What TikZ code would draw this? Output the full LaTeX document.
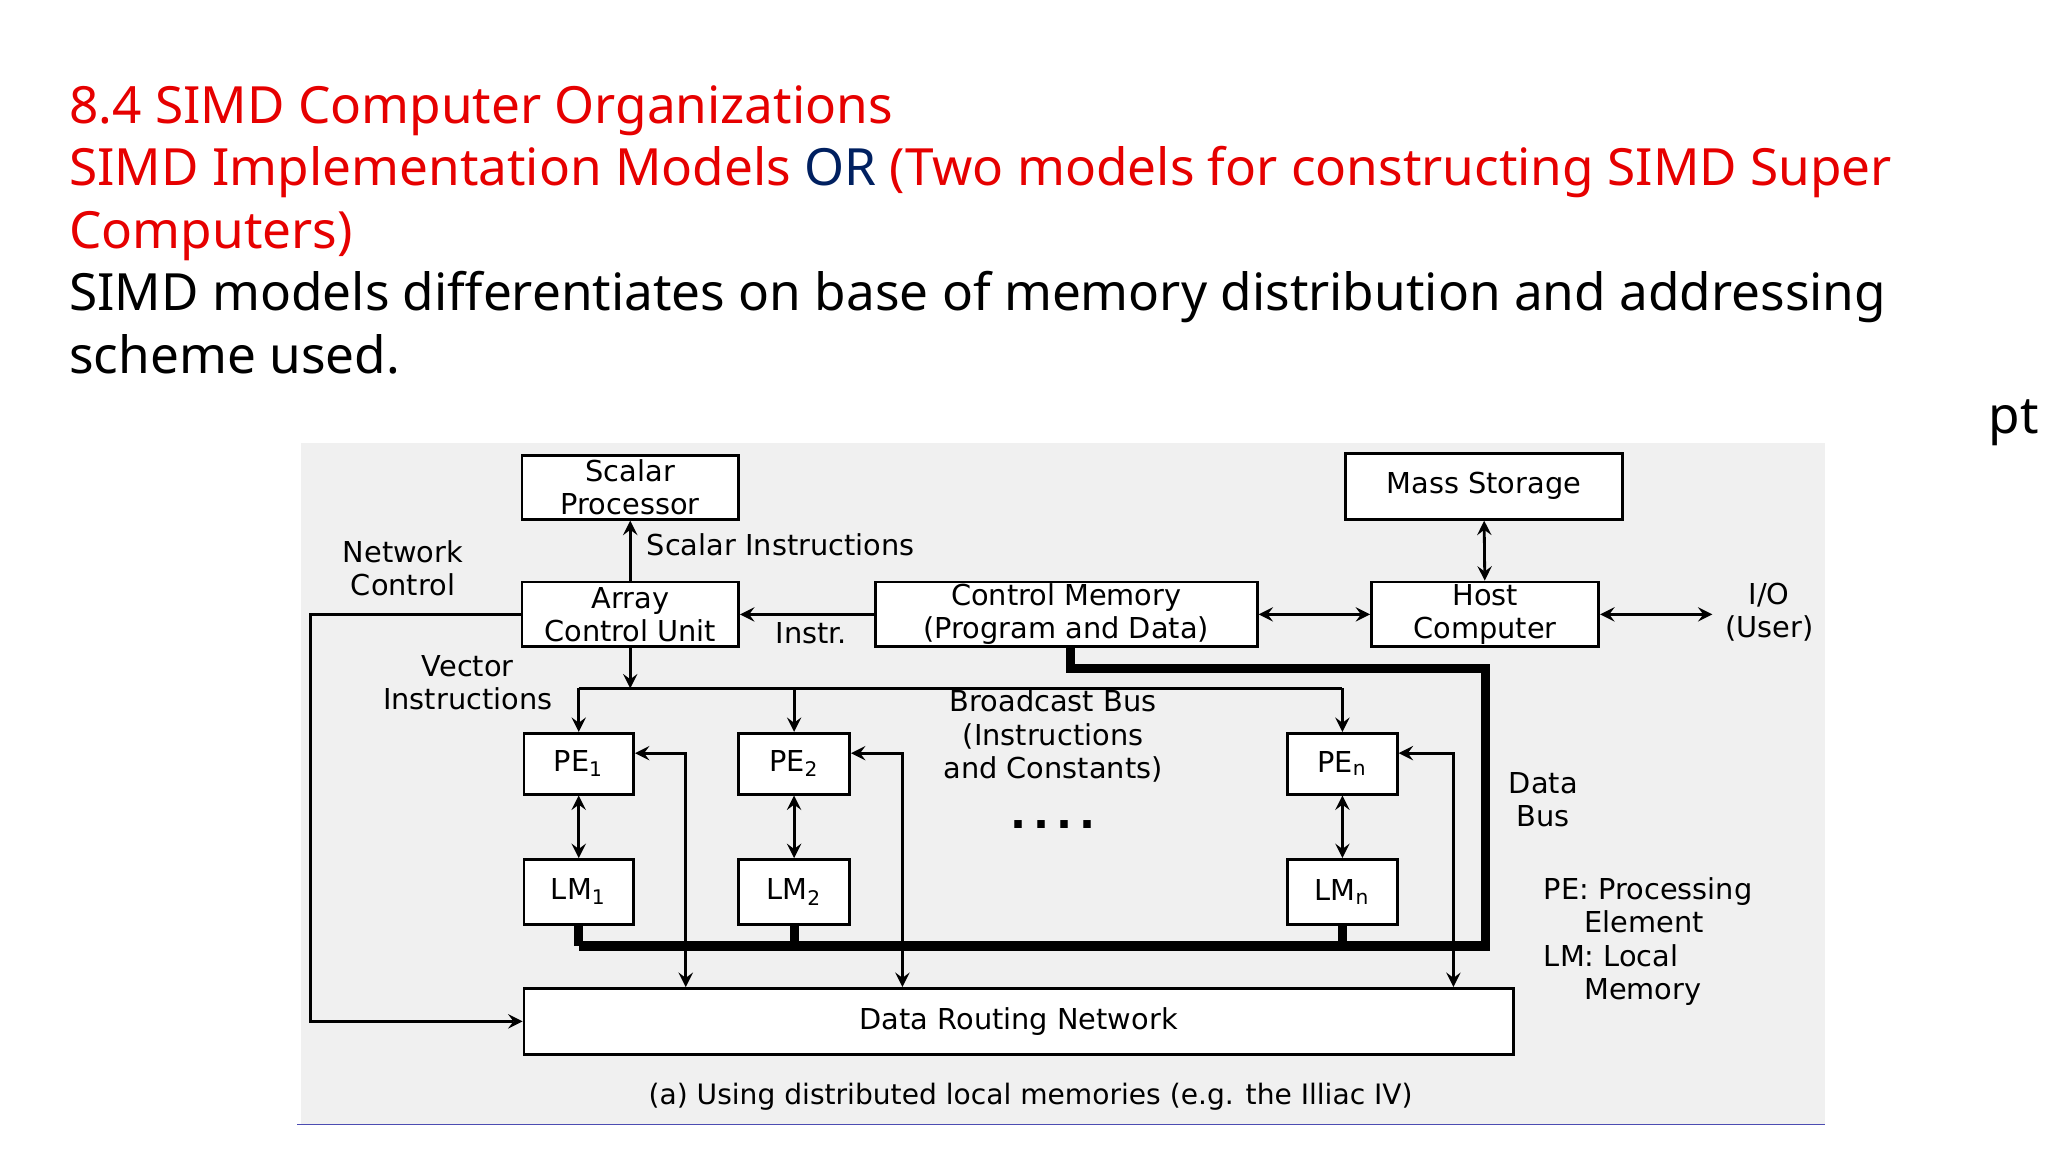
\documentclass[tikz,border=0pt]{standalone}
\usepackage{fontspec}
\setmainfont{Noto Sans}
\newfontfamily\diag{DejaVu Sans}
\definecolor{headred}{RGB}{230,0,0}
\definecolor{ornavy}{RGB}{0,32,96}
\newcommand\pxw{0.3759pt}
\begin{document}
\begin{tikzpicture}[x=0.013213cm,y=-0.013213cm,
    box/.style={draw, thick, fill=white, font=\diag\fontsize{8.2}{9.4}\selectfont, align=center, inner sep=0pt},
    lbl/.style={font=\diag\fontsize{8.2}{9.4}\selectfont, align=center, inner sep=0pt},
    conn/.style={thick},
    bus/.style={line width=2.6pt}]
\useasboundingbox (0,0) rectangle (1550,872);
% heading
\node[anchor=north west, align=left, inner sep=0pt, font=\fontsize{14.6}{17.8}\selectfont] (head) at (52,64)
  {\textcolor{headred}{8.4 SIMD Computer Organizations}\\
   \textcolor{headred}{SIMD Implementation Models} \textcolor{ornavy}{OR} \textcolor{headred}{(Two models for constructing SIMD Super}\\
   \textcolor{headred}{Computers)}\\
   SIMD models differentiates on base of memory distribution and addressing\\
   scheme used.};
\node[font=\fontsize{14.6}{18}\selectfont, inner sep=0pt] (pt) at (1524,320) {pt};
% figure background
\fill[black!6] (228,335) rectangle (1381,851);
\draw[blue!40!gray] (225,851) -- (1381,851);
% boxes
\node[box, minimum width=164*\pxw, minimum height=48*\pxw] (sp) at (477,369) {Scalar\\Processor};
\node[box, minimum width=210*\pxw, minimum height=50*\pxw] (ms) at (1123,368) {Mass Storage};
\node[box, minimum width=164*\pxw, minimum height=49*\pxw] (acu) at (477,465) {Array\\Control Unit};
\node[box, minimum width=289*\pxw, minimum height=49*\pxw] (cm) at (807,465) {Control Memory\\(Program and Data)};
\node[box, minimum width=172*\pxw, minimum height=49*\pxw] (host) at (1124,465) {Host\\Computer};
\node[box, minimum width=83*\pxw, minimum height=46*\pxw] (pe1) at (438,578) {PE\textsubscript{1}};
\node[box, minimum width=84*\pxw, minimum height=46*\pxw] (pe2) at (601,578) {PE\textsubscript{2}};
\node[box, minimum width=83*\pxw, minimum height=46*\pxw] (pen) at (1016,578) {PE\textsubscript{n}};
\node[box, minimum width=83*\pxw, minimum height=49*\pxw] (lm1) at (438,675) {LM\textsubscript{1}};
\node[box, minimum width=84*\pxw, minimum height=49*\pxw] (lm2) at (601,675) {LM\textsubscript{2}};
\node[box, minimum width=83*\pxw, minimum height=49*\pxw] (lmn) at (1016,675) {LM\textsubscript{n}};
\node[box, minimum width=749*\pxw, minimum height=50*\pxw] (drn) at (771,773) {Data Routing Network};
% labels
\node[lbl] (io) at (1339,463) {I/O\\(User)};
\node[lbl] (nc) at (305,430) {Network\\Control};
\node[lbl, anchor=west] (si) at (489,412) {Scalar Instructions};
\node[lbl] (ins) at (614,479) {Instr.};
\node[lbl] (vi) at (354,517) {Vector\\Instructions};
\node[lbl] (bb) at (797,557) {Broadcast Bus\\(Instructions\\and Constants)};
\node[lbl, font=\diag\bfseries\fontsize{12}{12}\selectfont] (dots) at (797,624) {.\,.\,.\,.};
\node[lbl] (db) at (1168,605) {Data\\Bus};
\node[lbl, anchor=north west, align=left] (leg) at (1168,664) {PE: Processing\\\hspace{1.4em}Element\\LM: Local\\\hspace{1.4em}Memory};
\node[lbl, font=\diag\fontsize{8}{10}\selectfont] (cap) at (780,830) {(a) Using distributed local memories (e.g. the Illiac IV)};
% control connectors
\draw[conn, -stealth] (acu) -- (sp);
\draw[conn, -stealth] (cm) -- (acu);
\draw[conn, stealth-stealth] (cm) -- (host);
\draw[conn, stealth-stealth] (ms) -- (host);
\coordinate (iol) at (1296,465);
\draw[conn, stealth-stealth] (host) -- (iol);
\coordinate (bl) at (438,521);
\coordinate (br) at (1016,521);
\draw[conn] (bl) -- (br);
\draw[conn, -stealth] (acu.south) -- (acu.south |- bl);
\foreach \p in {pe1,pe2,pen}
  \draw[conn, -stealth] (\p |- bl) -- (\p);
\foreach \p/\l in {pe1/lm1,pe2/lm2,pen/lmn}
  \draw[conn, stealth-stealth] (\p) -- (\l);
% network control
\coordinate (nc1) at (235,465);
\draw[conn, -stealth] (acu.west) -- (nc1) |- (drn.west);
% PE to routing network
\foreach \p/\x in {pe1/519,pe2/683,pen/1100}
  \draw[conn, stealth-stealth] (\p.east |- 0,570) -- (\x,570) -- (\x,747);
% data bus
\coordinate (db1) at (810,506);
\coordinate (db2) at (1124,716);
\draw[bus] (cm.south -| db1) |- (db2 |- db1) -- (db2) -- (lm1.south |- db2);
\foreach \l in {lm1,lm2,lmn}
  \draw[bus] (\l.south) -- (\l.south |- db2);
\end{tikzpicture}
\end{document}
